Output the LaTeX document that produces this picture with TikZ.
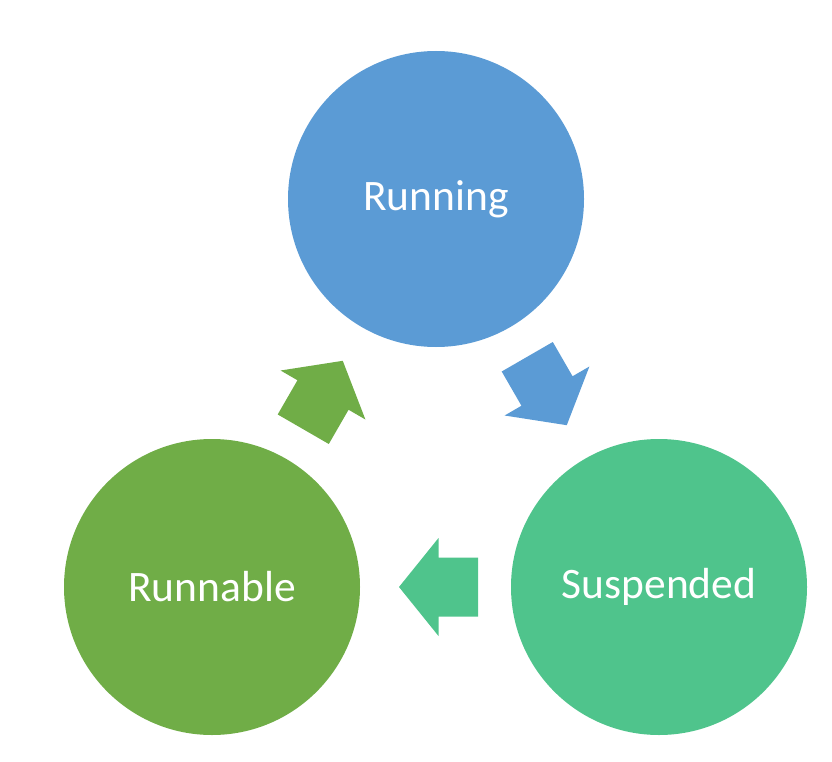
\documentclass[tikz,border=0pt]{standalone}
\usepackage{fontspec}
\setmainfont{Carlito}
\definecolor{runblue}{HTML}{5B9BD5}
\definecolor{rungreen}{HTML}{70AD47}
\definecolor{susteal}{HTML}{4FC48C}
\begin{document}
\begin{tikzpicture}[x=1pt,y=-1pt,
  state/.style={circle,minimum size=296pt,inner sep=0pt,text=white,
    font=\fontsize{43.5}{50}\selectfont},
  blockarrow/.style={draw=none}]
\useasboundingbox (0,0) rectangle (832,762);
\node[state,fill=runblue] (running) at (436,199) {Running};
\node[state,fill=rungreen] (runnable) at (212,587) {Runnable};
\node[state,fill=susteal] (suspended) at (659,587) {Suspended};
% Running -> Suspended
\fill[blockarrow,fill=runblue] (501.7,371.5) -- (521.45,405.75) -- (504.6,415.5)
  -- (566.75,425.2) -- (589.4,366.5) -- (572.55,376.25) -- (552.8,342.0) -- cycle;
% Suspended -> Runnable
\fill[blockarrow,fill=susteal] (478,557.5) -- (438.5,557.5) -- (438.5,538)
  -- (399,587) -- (438.5,636) -- (438.5,616.5) -- (478,616.5) -- cycle;
% Runnable -> Running
\fill[blockarrow,fill=rungreen] (328.8,444.0) -- (348.55,409.75) -- (365.4,419.5)
  -- (342.75,360.8) -- (280.6,370.5) -- (297.45,380.25) -- (277.7,414.46) -- cycle;
\end{tikzpicture}
\end{document}
